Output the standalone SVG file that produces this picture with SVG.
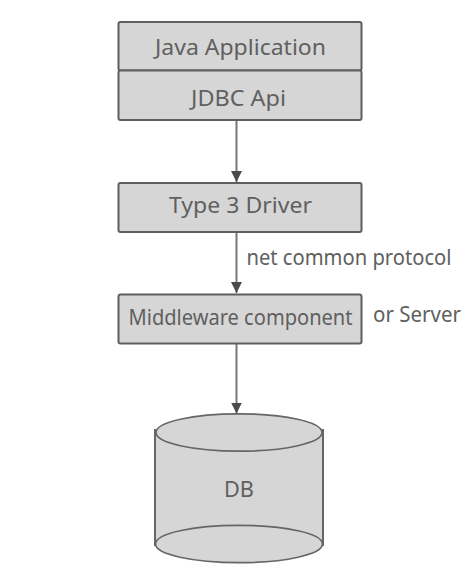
<svg xmlns="http://www.w3.org/2000/svg" width="474" height="585" viewBox="0 0 474 585">
<style>
.n{fill:#d6d6d6;stroke:#5f5f5f;stroke-width:2}
.e{fill:#d6d6d6;stroke:#666;stroke-width:1.700}
.s{fill:none;stroke:#666;stroke-width:2}
.t{font-family:"Noto Sans",sans-serif;font-size:21px;fill:#606060}
.c{stroke:#777;stroke-width:2;fill:none;marker-end:url(#a)}
</style>
<defs><marker id="a" markerUnits="userSpaceOnUse" markerWidth="12" markerHeight="11" refX="11" refY="5.500" orient="auto"><path d="M0 0L11 5.500L0 11z" fill="#4a4a4a"/></marker></defs>
<rect width="474" height="585" fill="#fff"/>
<g id="connectors">
<path class="c" d="M236.500 120V182"/>
<path class="c" d="M236.500 232V293"/>
<path class="c" d="M236.500 344V413.500"/>
</g>
<g id="java-application"><rect class="n" x="118.500" y="22" width="243" height="48.500" rx="2"/><text class="t" x="155" y="54.500" textLength="171" lengthAdjust="spacingAndGlyphs">Java Application</text></g>
<g id="jdbc-api"><rect class="n" x="118.500" y="70.500" width="243" height="49.500" rx="2"/><text class="t" x="191" y="105.500" textLength="95" lengthAdjust="spacingAndGlyphs">JDBC Api</text></g>
<g id="type-3-driver"><rect class="n" x="118.500" y="183" width="243" height="49" rx="2"/><text class="t" x="169" y="213" textLength="143" lengthAdjust="spacingAndGlyphs">Type 3 Driver</text></g>
<g id="middleware"><rect class="n" x="118.500" y="294.500" width="243" height="49" rx="2"/><text class="t" x="128.500" y="325" textLength="224" lengthAdjust="spacingAndGlyphs">Middleware component</text></g>
<g id="db">
<rect x="155" y="430" width="168" height="115" fill="#d6d6d6"/>
<ellipse class="e" cx="239" cy="544" rx="83.500" ry="18.700"/>
<ellipse class="e" cx="239" cy="432.500" rx="83" ry="18.700"/>
<path class="s" d="M155 429V546M323 429V546"/>
<text class="t" x="224" y="497" textLength="30" lengthAdjust="spacingAndGlyphs">DB</text>
</g>
<text class="t" x="246.500" y="265" textLength="205" lengthAdjust="spacingAndGlyphs">net common protocol</text>
<text class="t" x="373" y="321.500" textLength="88" lengthAdjust="spacingAndGlyphs">or Server</text>
</svg>
